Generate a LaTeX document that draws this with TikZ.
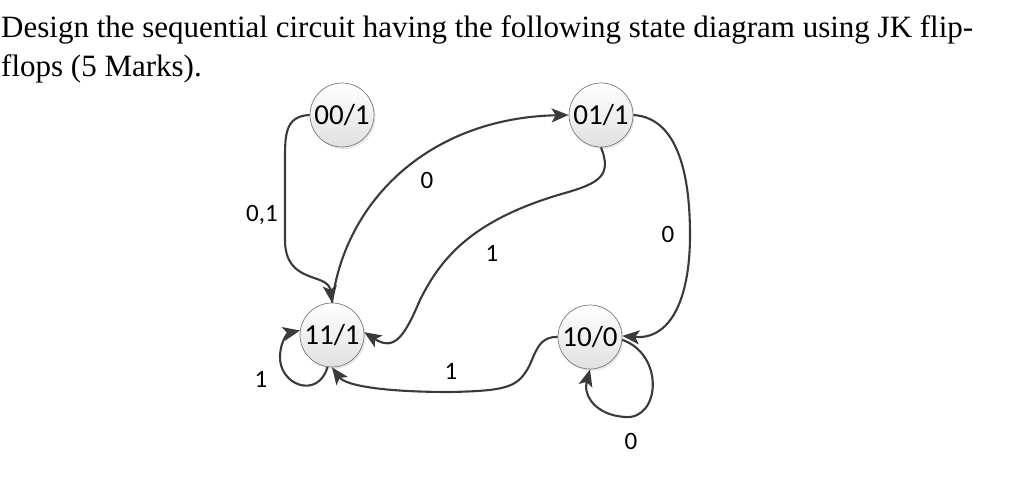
\documentclass[tikz,border=0pt]{standalone}
\usepackage{fontspec}
\setmainfont{Liberation Serif}
\newfontfamily\calfont{Carlito}
\usetikzlibrary{arrows.meta,shadows}
\definecolor{edgec}{HTML}{3A3A3A}
\definecolor{circb}{HTML}{7A7A7A}
\tikzset{
 state/.style={circle, draw=circb, line width=0.7pt, minimum size=64pt, inner sep=0pt, top color=white, bottom color=black!12, drop shadow={opacity=0.18, shadow xshift=1.5pt, shadow yshift=-2pt}, font=\calfont\fontsize{29}{29}\selectfont},
 trans/.style={draw=edgec, line width=2.1pt, -{Stealth[length=17pt,width=14pt,inset=4pt]}},
 lab/.style={font=\calfont\fontsize{25}{25}\selectfont, inner sep=0pt},
 title/.style={font=\fontsize{31}{31}\selectfont, anchor=base west, inner sep=0pt}
}
\begin{document}
\begin{tikzpicture}[x=1pt,y=-1pt]
\useasboundingbox (0,0) rectangle (1024,476);
\node[title] (t1) at (1,38) {Design the sequential circuit having the following state diagram using JK flip-};
\node[title] (t2) at (1,77) {flops (5 Marks).};
\node[state] (A) at (342,115) {00/1};
\node[state] (B) at (601,115) {01/1};
\node[state] (C) at (332,335) {11/1};
\node[state] (D) at (590,337) {10/0};
\draw[trans] (A.180) .. controls (285,116) and (285,135) .. (285,160) -- (285,240) .. controls (285,285) and (328,272) .. (C.90);
\draw[trans] (C.90) .. controls (345,200) and (430,118) .. (B.180);
\draw[trans] (B.270) .. controls (612,175) and (600,183) .. (565,193) .. controls (470,220) and (440,260) .. (420,300) .. controls (405,335) and (395,352) .. (C.5);
\draw[trans] (B.0) .. controls (680,118) and (690,180) .. (690,235) .. controls (690,300) and (670,340) .. (D.2);
\draw[trans] (D.180) .. controls (535,336) and (535,360) .. (525,373) .. controls (515,388) and (500,391) .. (450,392) .. controls (380,392) and (345,385) .. (C.270);
\draw[trans] (C.262) .. controls (318,400) and (278,385) .. (280,355) .. controls (281,340) and (288,333) .. (C.172);
\draw[trans] (D.355) .. controls (665,355) and (660,420) .. (625,417) .. controls (595,415) and (583,395) .. (D.270);
\node[lab] (l1) at (262,215) {0,1};
\node[lab] (l2) at (427,180) {0};
\node[lab] (l3) at (492,253) {1};
\node[lab] (l4) at (668,234) {0};
\node[lab] (l5) at (451,371) {1};
\node[lab] (l6) at (261,379) {1};
\node[lab] (l7) at (631,441) {0};
\end{tikzpicture}
\end{document}
